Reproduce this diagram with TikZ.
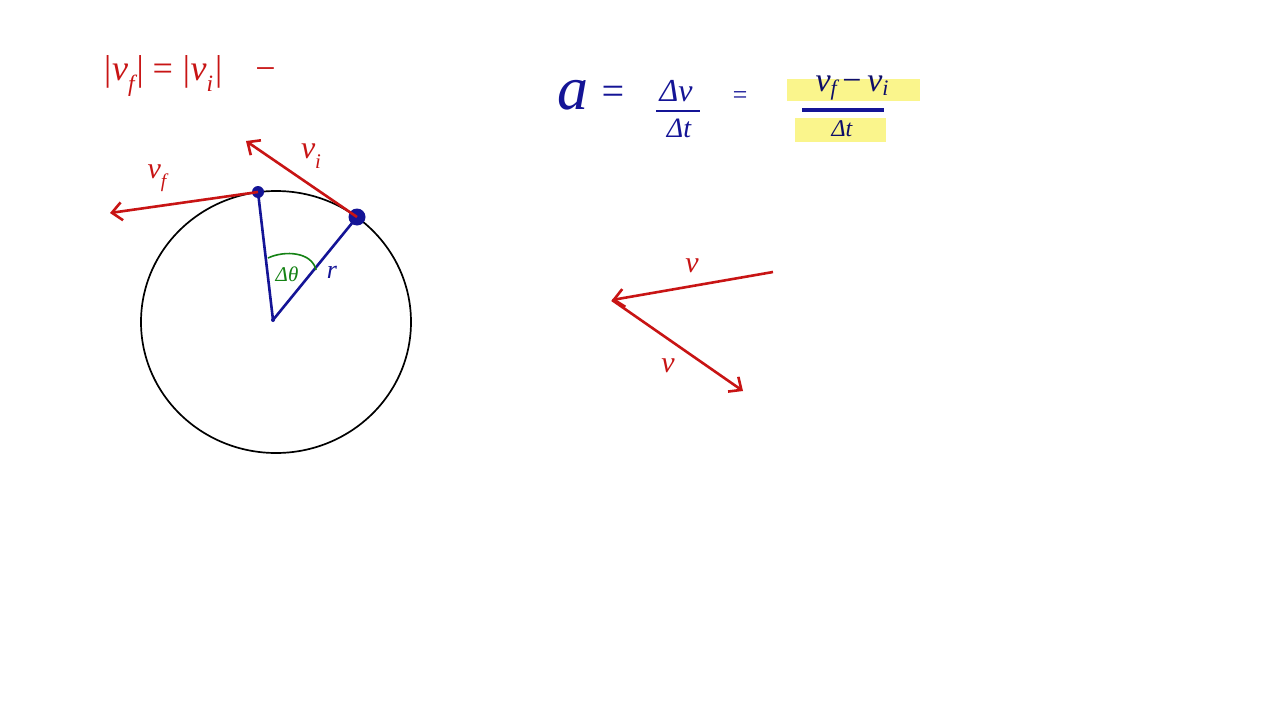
\documentclass[tikz,border=0pt]{standalone}
\usepackage{fontspec}
\usepackage{graphicx}
\setmainfont{Liberation Serif}
\usetikzlibrary{arrows.meta}
\definecolor{pred}{RGB}{200,20,20}
\definecolor{pblue}{RGB}{20,20,150}
\definecolor{pgreen}{RGB}{20,130,20}
\definecolor{hl}{RGB}{250,245,140}
\newcommand\mysub[1]{\raisebox{-0.3em}{\scalebox{0.65}{#1}}}
\newcommand\mysubhi[1]{\raisebox{-0.12em}{\scalebox{0.65}{#1}}}
\tikzset{
  vec/.style={draw=pred, line width=2.6pt, -{Straight Barb[length=10pt,width=18pt]}},
  radius line/.style={draw=pblue, line width=2.6pt},
  dotb/.style={circle, fill=pblue, inner sep=0pt},
  lab/.style={inner sep=0pt, font=\itshape},
}
\begin{document}
\begin{tikzpicture}[x=1pt,y=-1pt]
\useasboundingbox[fill=white] (0,0) rectangle (1280,720);
% circle
\coordinate (O) at (273,320);
\draw[line width=1.7pt] (276,322) ellipse [x radius=135, y radius=131];
\node[dotb, minimum size=4pt] (c) at (O) {};
\node[dotb, minimum size=12pt] (pf) at (258,192) {};
\node[dotb, minimum size=17pt] (pi) at (357,217) {};
\draw[radius line] (c.center) -- (pf.center);
\draw[radius line] (c.center) -- (pi.center);
% velocity vectors
\coordinate (vfend) at (110,213);
\coordinate (viend) at (246,141);
\draw[vec] (pf.center) -- (vfend);
\draw[vec] (pi.center) -- (viend);
\node[lab, text=pred] (lvf) at (157,178) {\fontsize{30}{30}\selectfont\itshape v\mysub{f}};
\node[lab, text=pred] (lvi) at (311,156) {\fontsize{32}{32}\selectfont\itshape v\mysub{i}};
% angle
\draw[pgreen, line width=1.6pt] (268,258) .. controls (285,250) and (312,252) .. (316,270);
\node[lab, text=pgreen] (dth) at (287,274) {\fontsize{21}{21}\selectfont\itshape Δθ};
\node[lab, text=pblue] (rl) at (332,272) {\fontsize{26}{26}\selectfont\itshape r};
% top-left
\node[lab, text=pred, anchor=west] (eq1) at (102,76) {\fontsize{36}{36}\selectfont\itshape |v\mysub{f}|\,=\,|v\mysub{i}|\hspace{0.9em}\upshape −};
% acceleration equation
\fill[hl] (787,79) rectangle (920,101);
\fill[hl] (795,118) rectangle (886,142);
\node[lab, text=pblue] (a) at (573,95) {\fontsize{62}{62}\selectfont\itshape a};
\node[lab, text=pblue] (e1) at (613,95) {\fontsize{40}{40}\selectfont =};
\node[lab, text=pblue] (dv) at (676,91) {\fontsize{32}{32}\selectfont\itshape Δv};
\node[lab, text=pblue] (dt) at (679,128) {\fontsize{28}{28}\selectfont\itshape Δt};
\draw[pblue, line width=2pt] (656,111) -- (700,111);
\node[lab, text=pblue] (e2) at (740,98) {\fontsize{26}{26}\selectfont =};
\node[lab, text=pblue!70!black] (num) at (852,88) {\fontsize{34}{34}\selectfont\itshape v\mysubhi{f}\,\upshape −\,\itshape v\mysubhi{i}};
\draw[pblue, line width=3.2pt] (802,110) -- (884,110);
\node[lab, text=pblue!70!black] (den) at (842,129) {\fontsize{24}{24}\selectfont\itshape Δt};
% right vectors
\coordinate (A) at (773,272);
\coordinate (B) at (612,300);
\coordinate (C) at (743,391);
\draw[vec] (A) -- (B);
\draw[vec] (B) -- (C);
\node[lab, text=pred] (lv1) at (692,266) {\fontsize{30}{30}\selectfont\itshape v};
\node[lab, text=pred] (lv2) at (668,366) {\fontsize{30}{30}\selectfont\itshape v};
\end{tikzpicture}
\end{document}
